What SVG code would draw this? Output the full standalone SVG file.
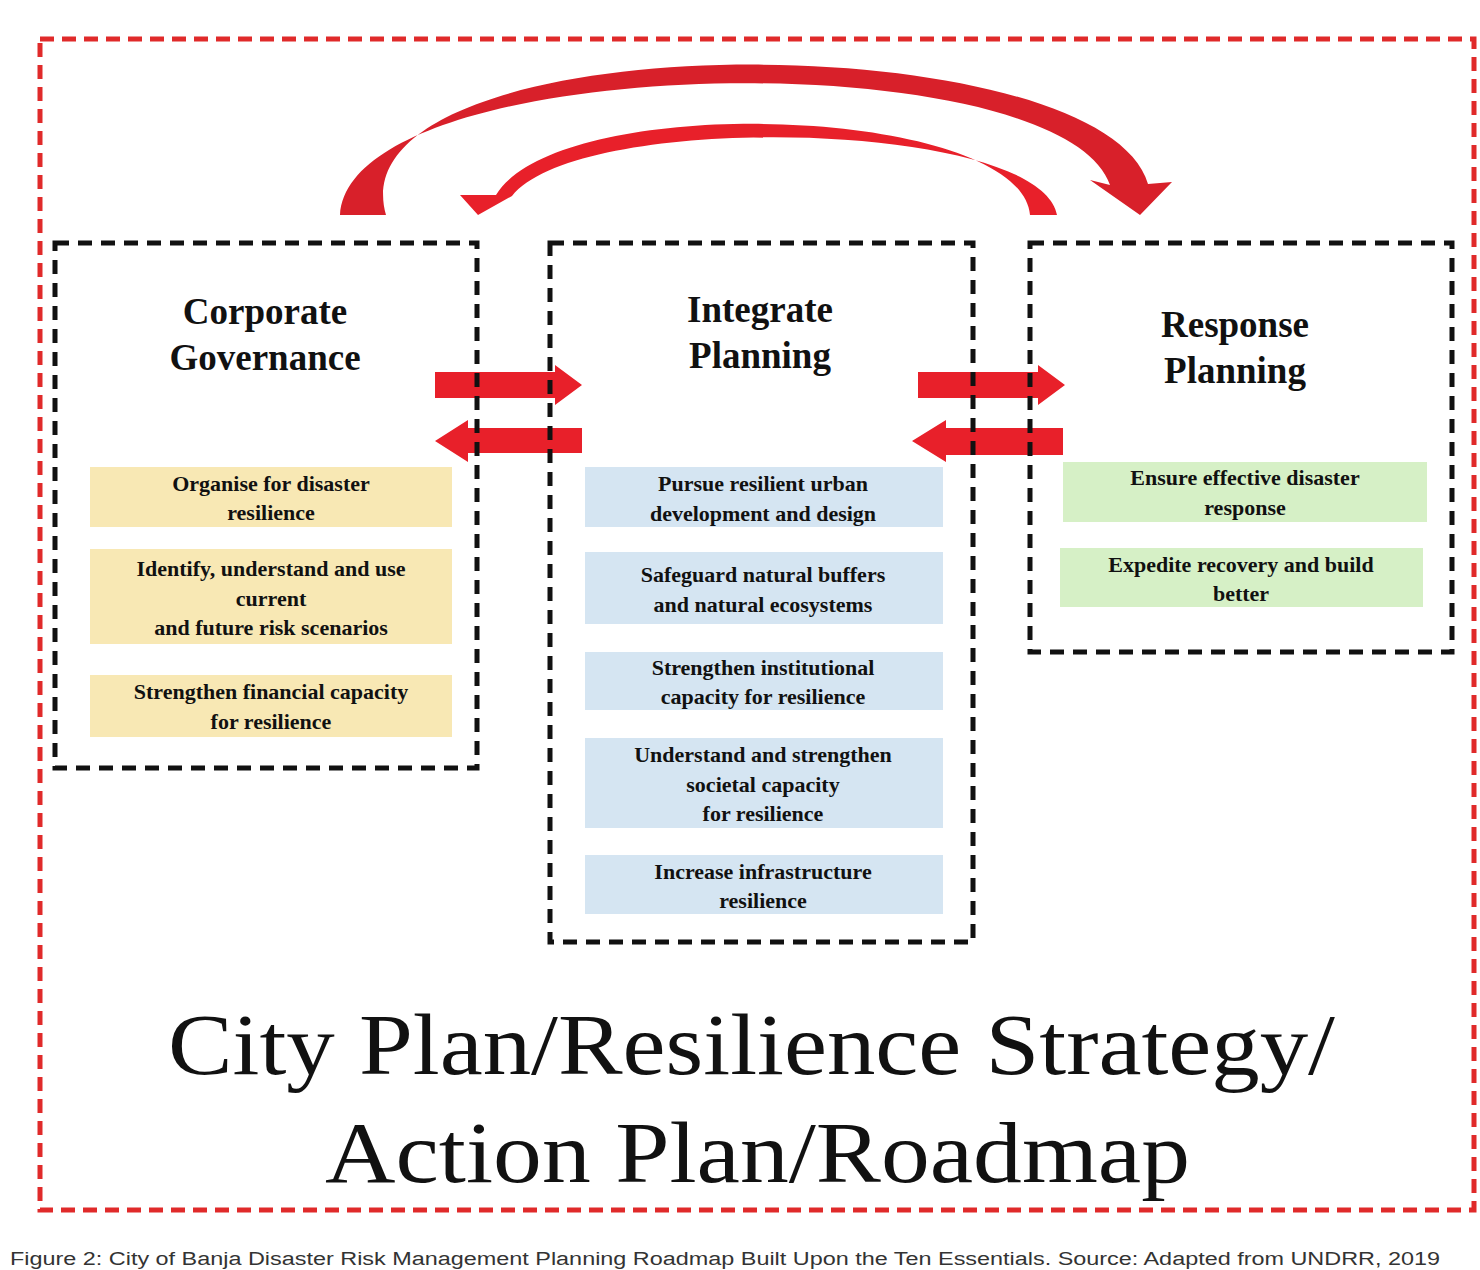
<svg xmlns="http://www.w3.org/2000/svg" width="1480" height="1270" viewBox="0 0 1480 1270">
<style>
.t{font-family:"Liberation Serif",serif;font-weight:bold;font-size:37px;fill:#111;text-anchor:middle}
.i{font-family:"Liberation Serif",serif;font-weight:bold;font-size:22px;fill:#111;text-anchor:middle}
.blk{fill:none;stroke:#111;stroke-width:5;stroke-dasharray:14 9}
.y{fill:#f8e8b4}.b{fill:#d5e5f2}.g{fill:#d6f0c6}
.ar{fill:#e8202a}
</style>
<rect width="1480" height="1270" fill="#fff"/>
<rect x="40" y="39" width="1434" height="1171" fill="none" stroke="#e02a2a" stroke-width="5" stroke-dasharray="14 8"/>
<g id="connectors">
<path d="M340 215 C350 50 1060 40 1110 185 L1090 180 L1140 215 L1172 182 L1148 184 C1100 20 330 20 386 215 Z" fill="#d8202a"/>
<path d="M1030 215 C1020 105 560 90 496 195 L460 195 L478 215 L512 196 C580 110 1040 120 1057 215 Z" class="ar"/>
<path d="M435 372 H555 V365 L582 385 L555 405 V398 H435 Z" class="ar"/>
<path d="M582 428 H468 V420 L435 441 L468 462 V453 H582 Z" class="ar"/>
<path d="M918 372 H1038 V365 L1065 385 L1038 405 V398 H918 Z" class="ar"/>
<path d="M1063 428 H946 V420 L912 441 L946 462 V455 H1063 Z" class="ar"/>
</g>
<g id="corporate">
<rect x="55" y="243" width="422" height="525" class="blk"/>
<text class="t" x="265" y="324">Corporate</text><text class="t" x="265" y="370">Governance</text>
<rect x="90" y="467" width="362" height="60" class="y"/>
<text class="i" x="271" y="491">Organise for disaster</text><text class="i" x="271" y="520">resilience</text>
<rect x="90" y="549" width="362" height="95" class="y"/>
<text class="i" x="271" y="576">Identify, understand and use</text><text class="i" x="271" y="606">current</text><text class="i" x="271" y="635">and future risk scenarios</text>
<rect x="90" y="675" width="362" height="62" class="y"/>
<text class="i" x="271" y="699">Strengthen financial capacity</text><text class="i" x="271" y="729">for resilience</text>
</g>
<g id="integrate">
<rect x="550" y="243" width="423" height="699" class="blk"/>
<text class="t" x="760" y="322">Integrate</text><text class="t" x="760" y="368">Planning</text>
<rect x="585" y="467" width="358" height="60" class="b"/>
<text class="i" x="763" y="491">Pursue resilient urban</text><text class="i" x="763" y="521">development and design</text>
<rect x="585" y="552" width="358" height="72" class="b"/>
<text class="i" x="763" y="582">Safeguard natural buffers</text><text class="i" x="763" y="612">and natural ecosystems</text>
<rect x="585" y="652" width="358" height="58" class="b"/>
<text class="i" x="763" y="675">Strengthen institutional</text><text class="i" x="763" y="704">capacity for resilience</text>
<rect x="585" y="738" width="358" height="90" class="b"/>
<text class="i" x="763" y="762">Understand and strengthen</text><text class="i" x="763" y="792">societal capacity</text><text class="i" x="763" y="821">for resilience</text>
<rect x="585" y="855" width="358" height="59" class="b"/>
<text class="i" x="763" y="879">Increase infrastructure</text><text class="i" x="763" y="908">resilience</text>
</g>
<g id="response">
<rect x="1030" y="243" width="422" height="409" class="blk"/>
<text class="t" x="1235" y="337">Response</text><text class="t" x="1235" y="383">Planning</text>
<rect x="1063" y="462" width="364" height="60" class="g"/>
<text class="i" x="1245" y="485">Ensure effective disaster</text><text class="i" x="1245" y="515">response</text>
<rect x="1060" y="548" width="363" height="59" class="g"/>
<text class="i" x="1241" y="572">Expedite recovery and build</text><text class="i" x="1241" y="601">better</text>
</g>
<g id="footer">
<text x="168" y="1074" font-family="Liberation Serif,serif" font-size="86" fill="#111" textLength="1167" lengthAdjust="spacingAndGlyphs">City Plan/Resilience Strategy/</text>
<text x="325" y="1182" font-family="Liberation Serif,serif" font-size="86" fill="#111" textLength="865" lengthAdjust="spacingAndGlyphs">Action Plan/Roadmap</text>
<text x="10" y="1265" font-family="Liberation Sans,sans-serif" font-size="18" fill="#333" textLength="1430" lengthAdjust="spacingAndGlyphs">Figure 2: City of Banja Disaster Risk Management Planning Roadmap Built Upon the Ten Essentials. Source: Adapted from UNDRR, 2019</text>
</g>
</svg>
